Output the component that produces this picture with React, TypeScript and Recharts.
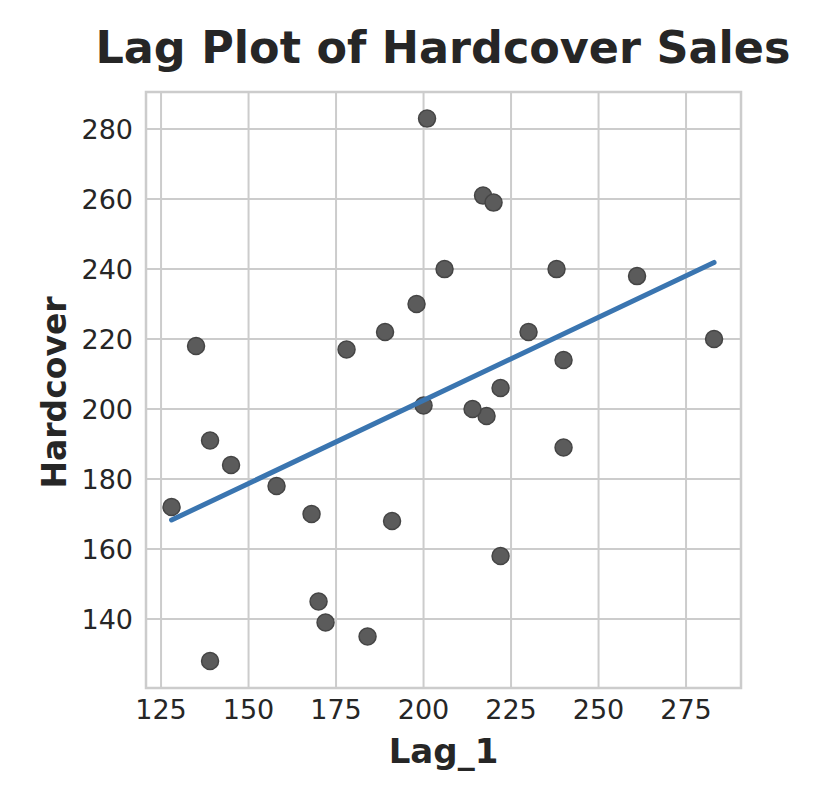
import React from "react";
import {
  ScatterChart,
  Scatter,
  XAxis,
  YAxis,
  CartesianGrid,
  ReferenceArea,
} from "recharts";

// lag_1 (previous day) vs hardcover sales
const lag1 = [
  139, 128, 172, 139, 191, 168, 170, 145, 184, 135, 218, 198, 230, 222, 206,
  240, 189, 222, 158, 178, 217, 261, 238, 240, 214, 200, 201, 283, 220,
];
const hardcover = [
  128, 172, 139, 191, 168, 170, 145, 184, 135, 218, 198, 230, 222, 206, 240,
  189, 222, 158, 178, 217, 261, 238, 240, 214, 200, 201, 283, 220, 259,
];

// regression line end points
const fitX = [128, 283];
const fitY = [168.3, 241.9];

const xTicks = [125, 150, 175, 200, 225, 250, 275];
const yTicks = [140, 160, 180, 200, 220, 240, 260, 280];

const X_DOMAIN = [120.7, 290.7];
const Y_DOMAIN = [120.3, 290.6];

const points = lag1.map((x, i) => ({ x, y: hardcover[i] }));
const fitLine = fitX.map((x, i) => ({ x, y: fitY[i] }));

const FONT = "'DejaVu Sans', sans-serif";
const INK = "#262626";

const Dot = (props: any) => (
  <circle
    cx={props.cx}
    cy={props.cy}
    r={8.5}
    fill="#5b5b5b"
    stroke="#454545"
    strokeWidth={1.5}
  />
);

export default function App() {
  return (
    <div style={{ position: "absolute", left: 0, top: 0, width: 832, height: 798 }}>
      <ScatterChart
        width={832}
        height={798}
        margin={{ top: 92, right: 91, bottom: 0, left: 0 }}
      >
        <CartesianGrid stroke="#cccccc" strokeWidth={2} />
        <XAxis
          type="number"
          dataKey="x"
          domain={X_DOMAIN}
          ticks={xTicks}
          allowDataOverflow
          height={110}
          axisLine={false}
          tickLine={false}
          tickSize={0}
          tickMargin={12}
          tick={{ fill: INK, fontSize: 27, fontFamily: FONT }}
        />
        <YAxis
          type="number"
          dataKey="y"
          domain={Y_DOMAIN}
          ticks={yTicks}
          allowDataOverflow
          width={146}
          axisLine={false}
          tickLine={false}
          tickSize={0}
          tickMargin={13}
          tick={{ fill: INK, fontSize: 27, fontFamily: FONT }}
        />
        <ReferenceArea
          x1={X_DOMAIN[0]}
          x2={X_DOMAIN[1]}
          y1={Y_DOMAIN[0]}
          y2={Y_DOMAIN[1]}
          fill="none"
          stroke="#cccccc"
          strokeWidth={2.5}
        />
        <Scatter data={points} shape={Dot} isAnimationActive={false} />
        <Scatter
          data={fitLine}
          line={{ stroke: "#3a75b0", strokeWidth: 5, strokeLinecap: "round" }}
          shape={() => <g />}
          isAnimationActive={false}
        />
      </ScatterChart>
      <svg
        width={832}
        height={798}
        style={{ position: "absolute", left: 0, top: 0, pointerEvents: "none" }}
      >
        <text
          x={443}
          y={63}
          textAnchor="middle"
          fontFamily={FONT}
          fontWeight="bold"
          fontSize={44.5}
          fill={INK}
        >
          Lag Plot of Hardcover Sales
        </text>
        <text
          x={443.5}
          y={763}
          textAnchor="middle"
          fontFamily={FONT}
          fontWeight="bold"
          fontSize={34}
          fill={INK}
        >
          Lag_1
        </text>
        <text
          transform="translate(66, 392.5) rotate(-90)"
          textAnchor="middle"
          fontFamily={FONT}
          fontWeight="bold"
          fontSize={33}
          fill={INK}
        >
          Hardcover
        </text>
      </svg>
    </div>
  );
}
